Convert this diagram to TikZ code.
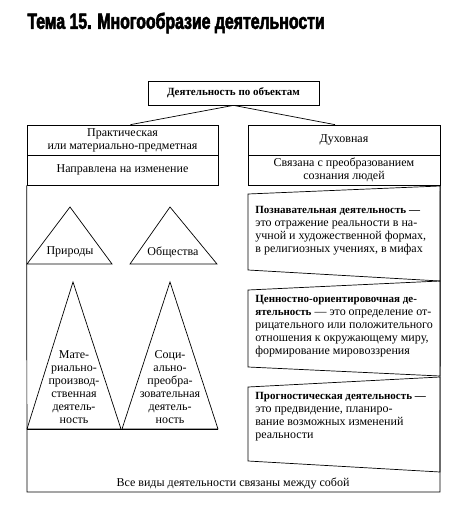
\documentclass[tikz,border=0pt]{standalone}
\usepackage{fontspec}
\setmainfont{Liberation Serif}
\newfontfamily\titlefont[FakeStretch=0.72, FakeBold=2.5]{Liberation Sans Bold}
\newcommand\bodyfont{\fontsize{12}{13}\selectfont}
\newcommand\hd[1]{{\fontsize{11}{13}\selectfont\bfseries #1}}

\begin{document}
\begin{tikzpicture}[x=1pt, y=-1pt, font=\bodyfont, line width=0.7pt,
        box/.style={draw, minimum width=191, minimum height=30, inner sep=1pt, align=center},
        side/.style={anchor=west, align=left, inner sep=0pt}]
        \useasboundingbox (0,0) rectangle (451,527);

        \node [anchor=west, inner sep=0pt, font=\titlefont\fontsize{22}{24}\selectfont] (T) at (27,23) {Тема 15. Многообразие деятельности};

        \node [box, minimum width=171, minimum height=24] (D) at (233.5,93) {\hd{Деятельность по объектам}};

        \node [box] (P) at (122.5,140) {Практическая\\или материально-предметная};
        \node [box] (N) at (122.5,170) {Направлена на изменение};
        \node [box, minimum width=192] (S) at (344,140) {Духовная};
        \node [box, minimum width=192] (C) at (344,170) {Связана с преобразованием\\сознания людей};

        \draw (D.south) -- ([xshift=8]P.north);
        \draw (D.south) -- ([xshift=-9]S.north);

        \draw (N.south west) -- (27,492) -- (440,492) -- (C.south east);
        \draw (27,429) -- (218,429);

        \draw (70,207) -- (112,264) -- (27,264) -- cycle;
        \draw (170,207) -- (217,264) -- (130,264) -- cycle;
        \draw (73,282) -- (121,429) -- (27,429) -- cycle;
        \draw (170,282) -- (218,429) -- (122,429) -- cycle;

        \node (Pr) at (70,252) {Природы};
        \node (Ob) at (173,252) {Общества};
        \node [align=center] (M) at (74,387) {Мате-\\риально-\\производ-\\ственная\\деятель-\\ность};
        \node [align=center] (Sc) at (170,387) {Соци-\\ально-\\преобра-\\зовательная\\деятель-\\ность};

        \draw (248,194) -- (440,186) -- (440,281) -- (248,270) -- cycle;
        \draw (248,290) -- (440,281) -- (440,376) -- (248,367) -- cycle;
        \draw (248,387) -- (440,377) -- (440,472) -- (248,461) -- cycle;

        \node [side] (K1) at (255,231) {\hd{Познавательная деятельность —}\\это отражение реальности в на-\\учной и художественной формах,\\в религиозных учениях, в мифах};
        \node [side] (K2) at (255,326) {\hd{Ценностно-ориентировочная де-}\\\hd{ятельность} — это определение от-\\рицательного или положительного\\отношения к окружающему миру,\\формирование мировоззрения};
        \node [side] (K3) at (255,417) {\hd{Прогностическая деятельность —}\\это предвидение, планиро-\\вание возможных изменений\\реальности};

        \node (V) at (233,483) {Все виды деятельности связаны между собой};
\end{tikzpicture}
\end{document}
